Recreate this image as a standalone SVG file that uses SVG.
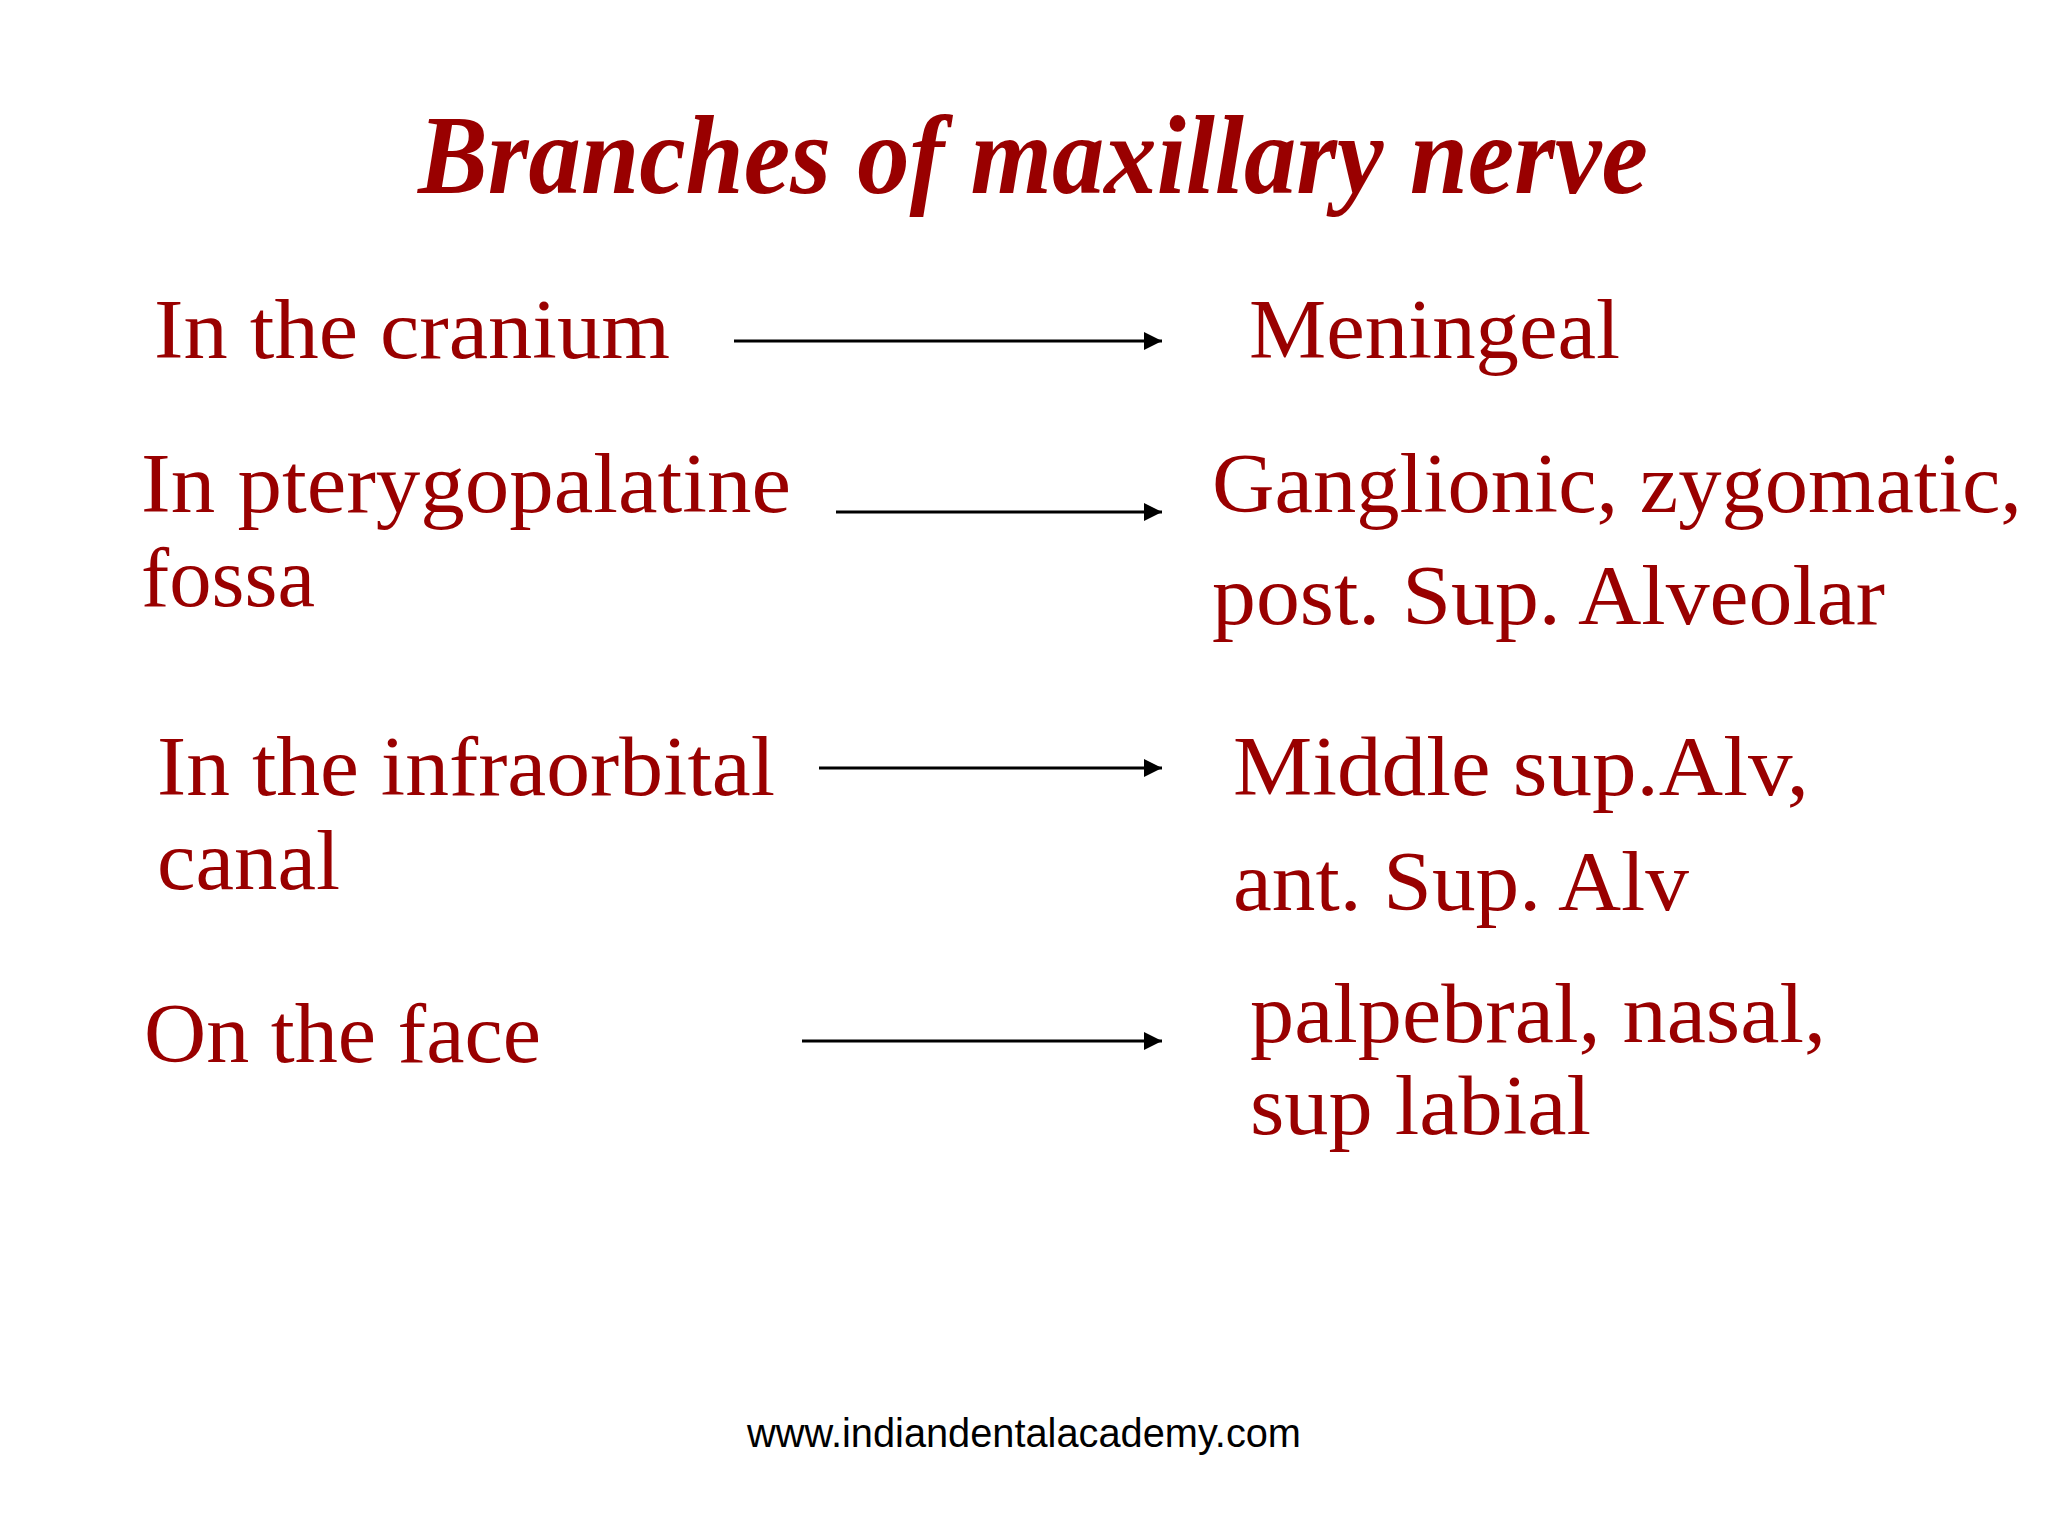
<svg xmlns="http://www.w3.org/2000/svg" width="2048" height="1536" viewBox="0 0 2048 1536">
<style>
.t{font-family:"Liberation Serif","DejaVu Serif",serif;font-size:84px;fill:#990000}
.h{font-family:"Liberation Serif","DejaVu Serif",serif;font-size:112px;font-weight:bold;font-style:italic;fill:#990000}
.f{font-family:"Liberation Sans",Arial,sans-serif;font-size:40px;fill:#000}
.c{stroke:#000;stroke-width:3;fill:none;marker-end:url(#ah)}
</style>
<defs>
<marker id="ah" viewBox="0 0 10 10" refX="10" refY="5" markerWidth="6" markerHeight="6" markerUnits="strokeWidth" orient="auto">
<path d="M0,0 L10,5 L0,10 z" fill="#000"/>
</marker>
</defs>
<rect width="2048" height="1536" fill="#fff"/>
<g id="title"><text class="h" x="418" y="193" textLength="1230" lengthAdjust="spacingAndGlyphs">Branches of maxillary nerve</text></g>
<g id="n1"><text class="t" x="154" y="358" textLength="516" lengthAdjust="spacingAndGlyphs">In the cranium</text></g>
<g id="m1"><text class="t" x="1249" y="358" textLength="371" lengthAdjust="spacingAndGlyphs">Meningeal</text></g>
<g id="n2"><text class="t" x="141" y="512" textLength="650" lengthAdjust="spacingAndGlyphs">In pterygopalatine</text><text class="t" x="141" y="606" textLength="174" lengthAdjust="spacingAndGlyphs">fossa</text></g>
<g id="m2"><text class="t" x="1212" y="512" textLength="810" lengthAdjust="spacingAndGlyphs">Ganglionic, zygomatic,</text><text class="t" x="1212" y="624" textLength="673" lengthAdjust="spacingAndGlyphs">post. Sup. Alveolar</text></g>
<g id="n3"><text class="t" x="157" y="795" textLength="618" lengthAdjust="spacingAndGlyphs">In the infraorbital</text><text class="t" x="157" y="889" textLength="183" lengthAdjust="spacingAndGlyphs">canal</text></g>
<g id="m3"><text class="t" x="1233" y="795" textLength="576" lengthAdjust="spacingAndGlyphs">Middle sup.Alv,</text><text class="t" x="1233" y="910" textLength="456" lengthAdjust="spacingAndGlyphs">ant. Sup. Alv</text></g>
<g id="n4"><text class="t" x="144" y="1062" textLength="397" lengthAdjust="spacingAndGlyphs">On the face</text></g>
<g id="m4"><text class="t" x="1250" y="1042" textLength="576" lengthAdjust="spacingAndGlyphs">palpebral, nasal,</text><text class="t" x="1250" y="1134" textLength="341" lengthAdjust="spacingAndGlyphs">sup labial</text></g>
<g id="connectors">
<line class="c" x1="734" y1="341" x2="1162" y2="341"/>
<line class="c" x1="836" y1="512" x2="1162" y2="512"/>
<line class="c" x1="819" y1="768" x2="1162" y2="768"/>
<line class="c" x1="802" y1="1041" x2="1162" y2="1041"/>
</g>
<g id="footer"><text class="f" x="747" y="1447" textLength="554" lengthAdjust="spacingAndGlyphs">www.indiandentalacademy.com</text></g>
</svg>
